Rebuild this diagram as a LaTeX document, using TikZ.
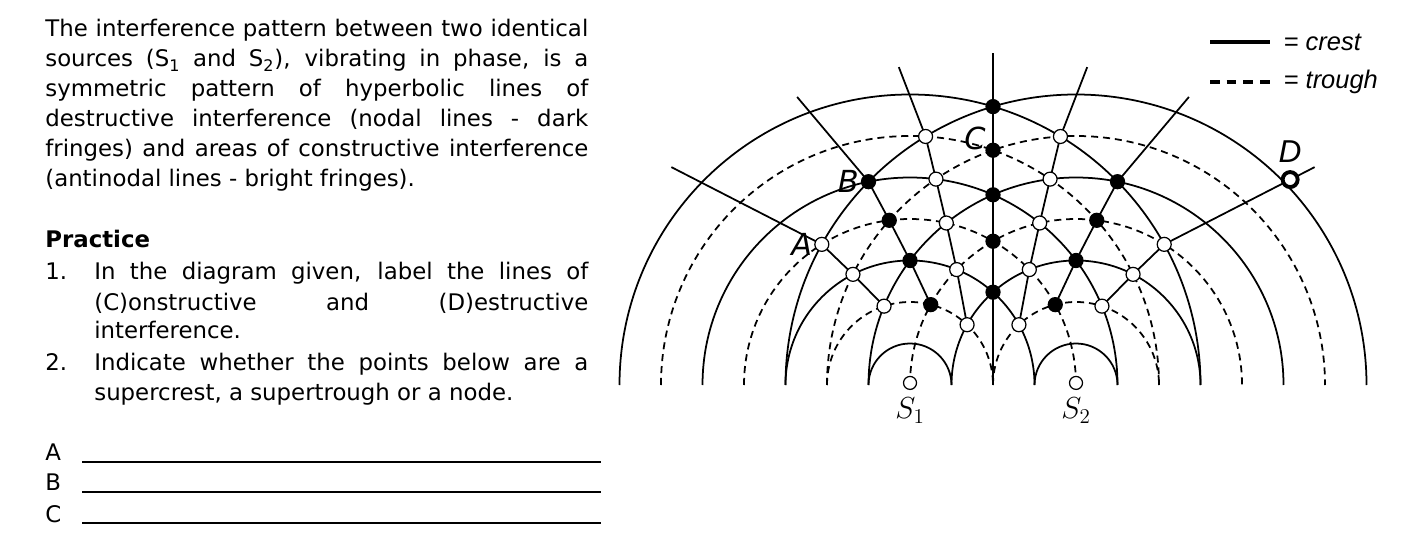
\documentclass[tikz,border=0pt]{standalone}
\usepackage{fontspec}
\usepackage{tikz}
\setmainfont{DejaVu Sans}
\newfontfamily\legfont{Liberation Sans}
\usetikzlibrary{positioning}

\tikzset{
  crest/.style={line width=1pt},
  trough/.style={line width=1pt, dash pattern=on 4pt off 2.8pt},
  wave1/.style={crest},
  wave0/.style={trough},
  antinode/.style={circle, draw, fill=black, inner sep=0pt, minimum size=0.28cm, line width=0.7pt},
  nodepoint/.style={circle, draw, fill=white, inner sep=0pt, minimum size=0.28cm, line width=0.7pt},
  txt/.style={anchor=base west, inner sep=0pt, font=\fontsize{13}{16}\selectfont},
  lab/.style={font=\LARGE\itshape, inner sep=1pt},
}
\newcommand{\jline}[2]{\hbox to #1{#2}}

\begin{document}
\begin{tikzpicture}
  \useasboundingbox (0,0) rectangle (28.56,10.88);

  % text on the left
  \node[txt] (t1) at (0.90,10.14) {\jline{10.86cm}{The interference pattern between two identical}};
  \node[txt] (t2) at (0.90,9.54) {\jline{10.86cm}{sources (S\textsubscript{1} and S\textsubscript{2}), vibrating in phase, is a}};
  \node[txt] (t3) at (0.90,8.94) {\jline{10.86cm}{symmetric \hfill pattern \hfill of \hfill hyperbolic \hfill lines \hfill of}};
  \node[txt] (t4) at (0.90,8.34) {\jline{10.86cm}{destructive \hfill interference \hfill (nodal \hfill lines \hfill - \hfill dark}};
  \node[txt] (t5) at (0.90,7.74) {\jline{10.86cm}{fringes) and areas of constructive interference}};
  \node[txt] (t6) at (0.90,7.14) {(antinodal lines - bright fringes).};
  \node[txt] (pr) at (0.90,5.92) {\bfseries Practice};
  \node[txt] (i1) at (0.90,5.28) {1.};
  \node[txt] (i1a) at (1.88,5.28) {\jline{9.88cm}{In the diagram given, label the lines of}};
  \node[txt] (i1b) at (1.88,4.68) {\jline{9.88cm}{(C)onstructive \hfill and \hfill (D)estructive}};
  \node[txt] (i1c) at (1.88,4.12) {interference.};
  \node[txt] (i2) at (0.90,3.48) {2.};
  \node[txt] (i2a) at (1.88,3.48) {\jline{9.88cm}{Indicate whether the points below are a}};
  \node[txt] (i2b) at (1.88,2.88) {supercrest, a supertrough or a node.};
  \node[txt] (qa) at (0.90,1.68) {A};
  \node[txt] (qb) at (0.90,1.08) {B};
  \node[txt] (qc) at (0.90,0.44) {C};
  \draw[line width=0.6pt] (1.64,1.64) -- (12.02,1.64);
  \draw[line width=0.6pt] (1.64,1.04) -- (12.02,1.04);
  \draw[line width=0.6pt] (1.64,0.42) -- (12.02,0.42);

  % legend
  \coordinate (lc1) at (24.20,10.04);
  \coordinate (lc2) at (25.40,10.04);
  \coordinate (lt1) at (24.20,9.24);
  \coordinate (lt2) at (25.40,9.24);
  \draw[line width=1.8pt] (lc1) -- (lc2);
  \draw[line width=1.8pt, dash pattern=on 5.5pt off 4pt] (lt1) -- (lt2);
  \node[anchor=west, font=\legfont\itshape\fontsize{14.5}{16}\selectfont] (lcrest) at (25.55,10.04) {= crest};
  \node[anchor=west, font=\legfont\itshape\fontsize{14.5}{16}\selectfont] (ltrough) at (25.55,9.24) {= trough};

  \begin{scope}[shift={(19.86,3.18)}, x=0.83cm, y=0.83cm]
    % wave fronts of both sources
    \foreach \k in {1,...,7}{
      \pgfmathtruncatemacro\odd{mod(\k,2)}
      \draw[wave\odd] (-2-\k,0) arc (180:0:\k);
      \draw[wave\odd] (2-\k,0) arc (180:0:\k);
    }
    % crossing points
    \foreach \i in {1,...,7}{
      \foreach \j in {1,...,7}{
        \pgfmathtruncatemacro\s{\i+\j}
        \pgfmathtruncatemacro\dd{abs(\i-\j)}
        \ifnum\s>4 \ifnum\dd<4
          \pgfmathsetmacro\xx{(\i*\i-\j*\j)/8}
          \pgfmathsetmacro\yy{sqrt(\i*\i-(\xx+2)*(\xx+2))}
          \coordinate (d\i-\j) at (\xx,\yy);
        \fi\fi
      }
    }
    % ends of the hyperbolic lines
    \coordinate (e0) at (0,8);
    \coordinate (em1) at (-2.27,7.66);
    \coordinate (ep1) at (2.27,7.66);
    \coordinate (em2) at (-4.72,6.94);
    \coordinate (ep2) at (4.72,6.94);
    \coordinate (em3) at (-7.75,5.25);
    \coordinate (ep3) at (7.75,5.25);
    \coordinate (base) at (0,0);
    \draw[crest] (base) -- (e0);
    \draw[crest] (d2-3) -- (d3-4) -- (d4-5) -- (d5-6) -- (d6-7) -- (em1);
    \draw[crest] (d3-2) -- (d4-3) -- (d5-4) -- (d6-5) -- (d7-6) -- (ep1);
    \draw[crest] (d2-4) -- (d3-5) -- (d4-6) -- (d5-7) -- (em2);
    \draw[crest] (d4-2) -- (d5-3) -- (d6-4) -- (d7-5) -- (ep2);
    \draw[crest] (d2-5) -- (d3-6) -- (d4-7) -- (em3);
    \draw[crest] (d5-2) -- (d6-3) -- (d7-4) -- (ep3);
    % dots: black where both waves agree, white where they cancel
    \foreach \i in {1,...,7}{
      \foreach \j in {1,...,7}{
        \pgfmathtruncatemacro\s{\i+\j}
        \pgfmathtruncatemacro\dd{abs(\i-\j)}
        \pgfmathtruncatemacro\ev{mod(\dd,2)}
        \pgfmathtruncatemacro\lo{min(\i,\j)}
        \ifnum\s>4 \ifnum\dd<4 \ifnum\lo>1
          \ifnum\ev=0
            \node[antinode] (p\i-\j) at (d\i-\j) {};
          \else
            \node[nodepoint] (p\i-\j) at (d\i-\j) {};
          \fi
        \fi\fi\fi
      }
    }
    % point D on the outer crest
    \node[nodepoint, minimum size=0.3cm, line width=2.2pt] (pd) at (7.16,4.95) {};
    % sources
    \node[nodepoint, minimum size=0.26cm] (s1) at (-2,0.05) {};
    \node[nodepoint, minimum size=0.26cm] (s2) at (2,0.05) {};
    \node[font=\LARGE] (s1l) at (-2,-0.62) {$S_1$};
    \node[font=\LARGE] (s2l) at (2,-0.62) {$S_2$};
    % labels
    \node[lab, left=0pt of p4-7] (la) {A};
    \node[lab, left=0pt of p5-7] (lb) {B};
    \node[lab, above left=-4pt and 0pt of p6-6] (lc) {C};
    \node[font=\legfont\itshape\fontsize{18}{20}\selectfont, above=1pt of pd] (ld) {D};
  \end{scope}
\end{tikzpicture}
\end{document}
